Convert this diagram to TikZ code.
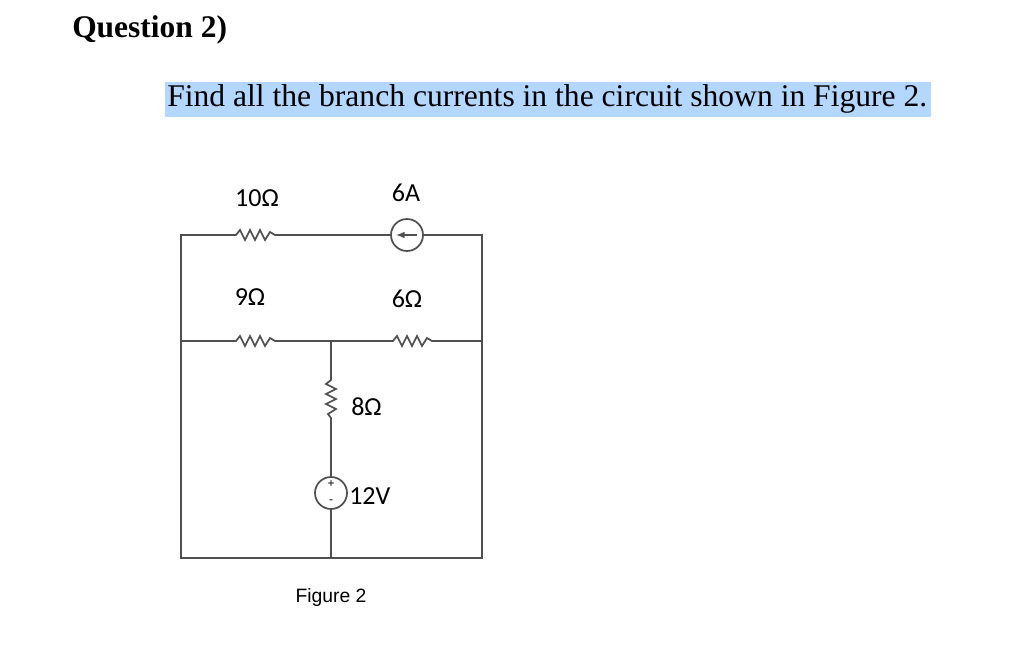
\documentclass[tikz,border=0pt]{standalone}
\usepackage{fontspec}
\setmainfont{Liberation Serif}
\newfontfamily\carlitofnt{Carlito}
\newfontfamily\arialfnt{Liberation Sans}
\definecolor{hl}{RGB}{179,215,255}
\definecolor{wire}{RGB}{80,80,80}
\begin{document}
\begin{tikzpicture}[x=0.75pt,y=-0.75pt,
  w/.style={draw=wire,line width=1.3pt},
  lbl/.style={font=\carlitofnt\fontsize{19.5}{22}\selectfont,inner sep=0pt},
]
\useasboundingbox (0,0) rectangle (1024,663);
\node[anchor=west,inner sep=0pt,font=\bfseries\fontsize{23.6}{27}\selectfont] (q) at (72,30) {Question 2)};
\fill[hl] (165,82) rectangle (931,117);
\node[anchor=west,inner sep=0pt,font=\fontsize{23.7}{27}\selectfont] (f) at (167,99) {Find all the branch currents in the circuit shown in Figure 2.};
\coordinate (TL) at (181,235); \coordinate (TR) at (482,235);
\coordinate (ML) at (181,341); \coordinate (MR) at (482,341);
\coordinate (MM) at (331,341);
\coordinate (BL) at (181,558); \coordinate (BR) at (482,558); \coordinate (BM) at (331,558);
\draw[w] (ML) -- (TL) -- (236,235) -- (240,230) -- (245,240) -- (250,230) -- (255,240) -- (260,230) -- (265,240) -- (270,232) -- (275,235) -- (391,235);
\node[circle,w,minimum size=32*0.75pt,inner sep=0pt] (cs) at (407,235) {};
\draw[w] (cs.east) -- (TR) -- (MR);
\draw[wire,line width=1.2pt,-latex] (417,235) -- (396,235);
\draw[w] (ML) -- (236,341) -- (240,336) -- (245,346) -- (250,336) -- (255,346) -- (260,336) -- (265,346) -- (270,338) -- (275,341) -- (MM) -- (393,341) -- (397,336) -- (402,346) -- (407,336) -- (412,346) -- (417,336) -- (422,346) -- (427,338) -- (432,341) -- (MR);
\draw[w] (MM) -- (331,380) -- (326,384) -- (336,389) -- (326,394) -- (336,399) -- (326,404) -- (336,409) -- (328,414) -- (331,418) -- (331,477);
\node[circle,w,minimum size=32*0.75pt,inner sep=0pt] (vs) at (331,493) {};
\node[font=\arialfnt\fontsize{9}{9}\selectfont,inner sep=0pt] (pl) at (331,484) {+};
\node[font=\arialfnt\fontsize{9}{9}\selectfont,inner sep=0pt] (mi) at (331,502) {-};
\draw[w] (vs.south) -- (BM);
\draw[w] (ML) -- (BL) -- (BR) -- (MR);
\node[lbl] (l10) at (257,198) {10Ω};
\node[lbl] (l6a) at (406,193) {6A};
\node[lbl] (l9) at (250,297) {9Ω};
\node[lbl] (l6) at (407,299) {6Ω};
\node[lbl,anchor=west] (l8) at (351,407) {8Ω};
\node[lbl,anchor=west] (l12) at (349,496) {12V};
\node[font=\arialfnt\fontsize{14.5}{16}\selectfont,inner sep=0pt] (fig) at (331,597) {Figure 2};
\end{tikzpicture}
\end{document}
